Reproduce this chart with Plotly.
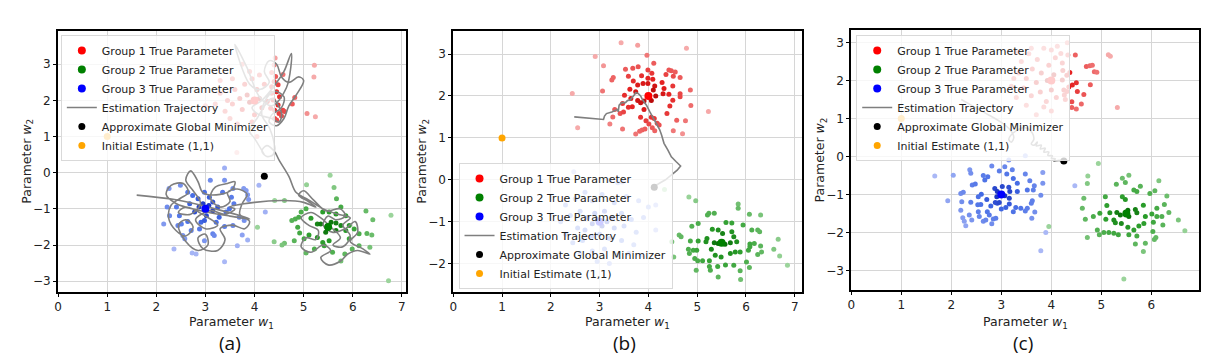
import math
import plotly.graph_objects as go

# ---------------- data ----------------
centers = {"g1": (4.0, 2.0), "g2": (5.5, -1.5), "g3": (3.0, -1.0)}
minimizer = {"a": (4.2, -0.1), "b": (4.12, -0.18), "c": (4.25, -0.12)}
initial_estimate = (1.0, 1.0)

# panel (a)
g1_a = [(4.42, 3.17), (4.40, 2.98), (4.35, 2.77), (4.43, 2.66), (4.58, 2.72), (4.40, 2.52), (4.48, 2.43),
        (4.35, 2.20), (4.45, 2.24), (4.51, 2.10), (4.38, 2.01), (4.48, 1.87), (4.58, 1.73), (4.50, 1.64),
        (4.41, 1.50), (4.45, 1.46), (4.55, 1.57), (4.61, 1.69), (4.82, 2.08), (4.77, 1.90), (5.07, 1.64),
        (5.24, 1.55), (5.21, 2.65), (5.22, 2.97), (4.33, 1.78), (4.41, 1.73), (4.26, 1.97), (4.35, 2.38),
        (3.30, 2.20), (3.45, 2.00), (3.55, 1.90), (3.60, 2.30), (3.70, 2.05), (3.75, 1.75), (3.80, 2.45),
        (3.85, 2.15), (3.90, 1.95), (3.95, 2.60), (4.00, 1.60), (4.05, 2.30), (4.10, 2.05), (4.15, 1.80),
        (3.50, 1.50), (3.65, 1.35), (3.40, 1.70), (3.95, 1.40), (4.20, 2.45), (4.10, 2.70), (3.90, 2.80),
        (3.20, 1.90), (3.00, 1.85), (4.05, 1.00), (3.64, 0.56), (3.30, 2.55), (3.55, 2.60), (3.75, 3.00)]
g2_a = [(5.54, -0.07), (5.06, -0.33), (5.62, -0.41), (5.67, -0.72), (4.61, -0.77), (4.41, -0.77), (6.27, -1.06),
        (6.78, -1.18), (6.41, -1.30), (4.83, -1.28), (4.76, -1.32), (4.90, -1.23), (4.95, -1.09), (5.05, -1.00),
        (5.15, -1.26), (5.28, -1.42), (5.39, -1.09), (5.52, -1.09), (5.66, -1.14), (5.76, -0.95), (5.86, -1.19),
        (5.93, -1.46), (6.03, -1.56), (6.13, -1.69), (6.39, -1.72), (6.29, -1.68), (6.35, -2.06), (5.76, -1.46),
        (5.66, -1.60), (5.45, -1.65), (5.28, -1.79), (5.11, -1.72), (4.92, -1.67), (4.88, -1.51), (5.01, -1.83),
        (5.05, -2.22), (5.22, -2.11), (5.42, -2.02), (5.59, -2.20), (5.76, -2.44), (5.84, -2.25), (5.99, -2.11),
        (4.61, -1.95), (4.56, -2.00), (4.40, -1.91), (4.81, -1.88), (5.39, -1.93), (5.52, -1.88), (5.93, -1.83),
        (5.86, -1.60), (5.56, -1.37), (5.35, -1.42), (5.66, -1.39), (6.73, -2.99), (4.06, -1.51), (6.13, -2.02)]
g3_a = [(3.39, 0.13), (2.26, -0.44), (2.49, -0.35), (3.10, -0.21), (3.39, -0.21), (3.56, -0.44), (3.78, -0.44),
        (3.83, -0.49), (3.86, -0.61), (3.88, -0.74), (4.09, -0.35), (4.22, -1.09), (3.58, -0.86), (3.53, -0.68),
        (2.22, -0.95), (2.15, -1.42), (2.27, -1.19), (2.44, -1.46), (2.54, -1.74), (2.58, -1.83), (2.36, -2.11),
        (2.73, -2.22), (2.81, -2.25), (2.98, -1.88), (3.15, -1.69), (3.18, -1.74), (3.39, -2.46), (3.39, -1.49),
        (3.56, -1.46), (3.65, -2.02), (3.75, -1.72), (3.86, -1.86), (3.28, -1.23), (3.22, -1.37), (2.91, -1.37),
        (2.88, -1.56), (2.71, -1.60), (2.64, -1.35), (2.51, -1.42), (2.47, -1.19), (2.41, -0.95), (2.74, -0.63),
        (2.85, -0.72), (2.98, -0.54), (3.08, -0.68), (3.15, -0.81), (2.95, -0.86), (3.02, -1.19), (2.98, -1.32),
        (3.07, -0.91), (2.87, -0.95), (2.78, -1.09), (3.15, -1.05), (3.25, -0.95), (2.68, -0.86), (2.64, -0.54),
        (3.35, -0.54), (3.49, -1.00), (3.42, -1.09), (3.69, -1.23), (3.79, -1.32)]
traj_a = [(1.6, -0.62), (2.4, -0.75), (3.2, -1.0), (3.9, -1.28), (3.5, -1.2), (2.9, -1.05), (2.4, -0.85),
          (2.2, -0.6), (2.3, -0.35), (2.55, -0.3), (2.65, -0.55), (2.5, -0.7), (2.3, -0.9), (2.25, -1.25),
          (2.4, -1.6), (2.6, -1.75), (2.75, -1.5), (2.6, -1.3), (2.45, -1.45), (2.6, -1.9), (2.85, -2.15),
          (3.05, -2.0), (3.0, -1.7), (2.85, -1.8), (2.95, -2.1), (3.25, -2.15), (3.4, -1.85), (3.3, -1.55),
          (3.55, -1.45), (3.8, -1.55), (3.9, -1.35), (3.7, -1.15), (3.75, -0.85), (3.85, -0.6), (3.65, -0.45),
          (3.45, -0.55), (3.5, -0.8), (3.3, -0.95), (3.1, -0.7), (3.2, -0.4), (3.45, -0.3), (3.6, -0.25),
          (3.55, -0.45), (3.3, -0.6), (2.95, -0.55), (2.85, -0.25), (2.7, 0.05), (2.6, -0.2), (2.75, -0.5),
          (2.9, -0.85), (2.7, -1.15), (2.45, -1.1), (2.6, -0.95), (3.0, -1.2), (3.25, -1.45), (3.0, -1.55),
          (2.8, -1.3), (3.1, -1.05), (3.4, -1.15), (3.6, -1.0), (3.5, -0.95),
          (4.0, -0.82), (4.6, -0.77), (5.0, -0.82), (5.25, -0.95),
          (5.1, -0.8), (4.9, -0.62), (5.0, -0.5), (5.2, -0.75), (5.45, -1.05), (5.75, -1.0), (5.85, -1.2),
          (5.65, -1.3), (5.5, -1.2), (5.4, -1.45), (5.6, -1.65), (5.85, -1.55), (6.05, -1.35), (6.1, -1.65),
          (5.95, -1.9), (6.2, -2.1), (6.35, -2.25), (6.1, -2.15), (5.9, -2.25), (5.75, -2.45), (5.5, -2.55),
          (5.35, -2.35), (5.55, -2.15), (5.4, -2.0), (5.15, -2.2), (4.95, -2.05), (5.05, -1.8), (5.25, -1.85),
          (5.3, -1.6), (5.1, -1.45), (4.95, -1.25), (5.15, -1.1), (5.35, -1.25), (5.55, -1.5), (5.75, -1.8),
          (5.6, -2.0), (5.8, -2.05), (5.95, -1.75), (5.8, -1.45), (5.95, -1.25), (5.7, -1.15), (5.4, -1.0),
          (5.1, -0.75), (4.85, -0.55),
          (4.7, -0.1), (4.5, 0.35), (4.4, 0.6), (4.25, 0.75), (4.15, 0.6), (4.25, 0.45), (4.38, 0.5), (4.4, 0.8),
          (4.3, 1.25), (4.15, 1.6), (4.2, 1.95), (4.4, 2.25), (4.6, 2.1), (4.55, 1.8), (4.35, 1.6), (4.3, 1.4),
          (4.45, 1.3), (4.6, 1.5), (4.7, 1.85), (4.85, 2.15), (5.0, 2.55), (4.9, 2.65), (4.7, 2.5), (4.55, 2.65),
          (4.45, 3.0), (4.3, 3.1), (4.2, 2.8), (4.3, 2.5), (4.1, 2.3), (3.9, 2.45), (3.6, 3.55), (3.85, 2.9),
          (4.1, 2.1), (4.35, 1.85), (4.65, 2.35), (4.75, 3.3), (4.6, 2.8), (4.4, 2.4), (4.15, 2.0), (3.95, 1.8),
          (4.1, 1.6), (4.35, 1.5), (4.5, 1.4), (4.55, 1.65), (4.35, 2.05), (4.05, 1.5), (3.9, 1.15), (4.0, 0.95),
          (4.2, 0.5)]

# panel (b)
g1_b = [(3.44, 3.27), (3.78, 3.21), (4.78, 3.14), (3.97, 2.97), (2.91, 2.94), (3.08, 2.72), (4.11, 2.78),
        (3.28, 2.44), (3.25, 2.38), (3.53, 2.64), (3.68, 2.66), (3.79, 2.70), (3.99, 2.62), (4.07, 2.54),
        (3.59, 2.47), (3.69, 2.36), (3.86, 2.48), (3.99, 2.42), (4.09, 2.40), (3.89, 2.30), (3.78, 2.26),
        (3.99, 2.30), (4.13, 2.24), (4.10, 2.14), (4.28, 2.32), (4.36, 2.51), (4.42, 2.62), (4.47, 2.60),
        (4.55, 2.57), (4.51, 2.47), (4.65, 2.44), (4.50, 2.24), (4.32, 2.18), (4.42, 2.04), (4.30, 2.05),
        (4.15, 2.00), (4.06, 1.89), (3.91, 1.88), (3.78, 1.89), (3.84, 1.84), (3.74, 2.10), (3.62, 2.16),
        (3.64, 1.94), (3.51, 2.02), (3.47, 1.82), (3.59, 1.73), (3.67, 1.74), (3.31, 1.68), (3.42, 1.58),
        (3.27, 1.50), (3.49, 1.62), (3.91, 1.68), (4.50, 1.90), (4.44, 1.76), (4.65, 2.05), (4.65, 1.98),
        (4.86, 2.14), (4.87, 1.77), (5.23, 1.63), (4.38, 1.58), (4.76, 1.41), (4.58, 1.42), (4.51, 1.17),
        (4.70, 1.10), (4.06, 1.49), (3.84, 1.49), (3.95, 1.41), (4.01, 1.33), (4.12, 1.46), (4.18, 1.35),
        (4.22, 1.31), (4.13, 1.17), (3.93, 1.21), (3.87, 1.19), (3.82, 1.16), (3.74, 1.09), (3.47, 1.21),
        (4.08, 1.24), (3.21, 1.33), (3.06, 2.12), (2.44, 2.06), (2.55, 1.24)]
g2_b = [(4.33, -0.23), (4.83, -0.41), (4.97, -0.50), (5.84, -0.58), (5.84, -0.68), (5.24, -0.80), (5.35, -0.80),
        (5.21, -0.84), (6.07, -0.82), (6.30, -0.84), (4.89, -1.11), (5.02, -1.04), (5.59, -1.02), (5.71, -1.03),
        (5.94, -1.08), (6.12, -1.20), (6.24, -1.20), (6.28, -1.24), (5.43, -1.20), (5.31, -1.18), (5.52, -1.28),
        (5.71, -1.24), (5.75, -1.36), (5.81, -1.48), (5.68, -1.50), (5.20, -1.40), (5.18, -1.48), (5.43, -1.52),
        (5.57, -1.54), (5.35, -1.50), (5.29, -1.66), (5.37, -1.80), (5.49, -1.84), (5.68, -1.76), (5.78, -1.72),
        (5.88, -1.72), (6.05, -1.68), (6.08, -1.60), (6.08, -1.53), (6.17, -1.52), (6.30, -1.58), (6.32, -1.72),
        (6.57, -1.66), (6.66, -1.42), (6.69, -1.82), (6.85, -2.04), (4.63, -1.32), (4.67, -1.36), (4.48, -1.48),
        (4.52, -1.84), (4.82, -1.66), (4.92, -1.68), (4.99, -1.68), (4.84, -1.76), (4.95, -1.88), (5.01, -1.93),
        (5.11, -1.93), (5.25, -1.93), (5.25, -2.07), (5.42, -2.07), (5.27, -2.16), (5.43, -2.32), (5.89, -2.38),
        (5.88, -2.17), (6.07, -2.09), (6.01, -1.96), (5.75, -2.04), (5.58, -2.03), (4.98, -2.16), (4.86, -1.46),
        (5.02, -1.46), (6.24, -1.78)]
g3_b = [(2.47, 0.19), (3.21, -0.01), (3.37, -0.07), (3.46, -0.05), (2.30, -0.60), (2.50, -0.45), (2.70, -0.30),
        (2.85, -0.50), (3.05, -0.35), (3.30, -0.55), (3.55, -0.40), (3.80, -0.50), (4.00, -0.65), (4.15, -0.60),
        (2.20, -1.00), (2.40, -0.85), (2.60, -0.75), (2.75, -0.90), (2.90, -0.80), (3.10, -0.75), (3.25, -0.90),
        (3.45, -0.80), (3.65, -0.95), (3.90, -0.90), (4.15, -1.20), (2.30, -1.30), (2.55, -1.15), (2.70, -1.20),
        (2.85, -1.05), (2.95, -0.95), (3.05, -1.10), (3.15, -1.00), (3.30, -1.15), (3.50, -1.10), (3.75, -1.25),
        (2.45, -1.50), (2.65, -1.45), (2.85, -1.35), (3.00, -1.30), (3.20, -1.40), (3.45, -1.45), (3.70, -1.55),
        (2.60, -1.75), (2.85, -1.70), (3.10, -1.65), (3.35, -1.80), (3.60, -1.75), (3.85, -1.80), (2.95, -1.95),
        (3.20, -2.00)]
traj_b = [(2.48, 1.50), (3.08, 1.44), (3.10, 1.52), (3.14, 1.58), (3.25, 1.62), (3.33, 1.66), (3.37, 1.68),
          (3.38, 1.62), (3.40, 1.78), (3.45, 1.84), (3.53, 1.84), (3.57, 1.89), (3.62, 1.90), (3.71, 2.02),
          (3.74, 2.08), (3.79, 2.06), (3.84, 2.00), (3.89, 1.89), (3.96, 1.78), (4.03, 1.62), (4.11, 1.46),
          (4.18, 1.31), (4.23, 1.20), (4.27, 1.07), (4.32, 0.87), (4.40, 0.71), (4.47, 0.55), (4.57, 0.43),
          (4.66, 0.33), (4.59, 0.23), (4.47, 0.11), (4.35, 0.00), (4.20, -0.10), (4.12, -0.15)]

# panel (c)
g1_c = [(4.32, 2.99), (4.33, 2.67), (4.19, 2.71), (4.48, 2.67), (4.22, 2.46), (4.31, 2.14), (4.37, 2.21),
        (4.22, 2.01), (4.42, 1.88), (4.50, 1.94), (4.35, 1.83), (4.25, 1.75), (4.26, 1.62), (4.28, 1.50),
        (4.31, 1.71), (4.52, 1.71), (4.65, 1.63), (4.41, 1.44), (4.60, 1.38), (4.50, 1.25), (4.41, 1.29),
        (4.78, 1.89), (4.70, 2.37), (4.77, 2.39), (4.82, 2.40), (4.86, 2.23), (4.91, 2.22), (5.14, 2.68),
        (5.18, 2.64), (5.32, 1.29), (4.23, 2.26),
        (3.35, 2.20), (3.40, 2.50), (3.45, 1.80), (3.50, 2.05), (3.55, 2.70), (3.60, 1.60), (3.62, 2.30),
        (3.70, 1.95), (3.72, 2.55), (3.78, 1.70), (3.80, 2.20), (3.85, 2.85), (3.90, 1.45), (3.92, 2.00),
        (3.95, 2.40), (4.00, 1.75), (4.05, 2.15), (4.08, 2.60), (4.10, 1.55), (4.12, 2.90), (3.30, 1.55),
        (3.50, 1.35), (3.25, 2.05), (4.00, 1.20), (3.70, 1.10), (3.85, 1.30), (3.60, 2.85), (4.00, 2.80),
        (3.30, 2.75), (3.20, 1.85)]
g2_c = [(4.94, -0.18), (4.73, -0.51), (4.72, -0.71), (5.42, -0.57), (5.55, -0.49), (5.48, -0.68), (5.30, -0.73),
        (5.65, -0.88), (5.71, -0.92), (5.78, -0.78), (5.97, -0.97), (6.07, -0.90), (6.15, -0.64), (6.31, -1.04),
        (6.26, -1.26), (6.35, -1.47), (6.21, -1.58), (6.11, -1.58), (6.04, -1.73), (6.23, -1.80), (6.54, -1.67),
        (6.67, -1.95), (4.65, -1.10), (4.62, -1.36), (4.68, -1.65), (4.72, -2.13), (4.96, -2.06), (4.92, -1.93),
        (4.84, -1.58), (4.97, -1.49), (5.08, -1.06), (5.11, -1.29), (5.17, -1.48), (5.09, -1.65), (5.28, -1.74),
        (5.25, -1.67), (5.31, -1.47), (5.42, -1.06), (5.48, -1.13), (5.38, -1.54), (5.55, -1.58), (5.53, -1.41),
        (5.68, -1.39), (5.71, -1.48), (5.84, -1.28), (5.88, -1.58), (5.85, -1.76), (5.75, -1.83), (5.65, -1.93),
        (5.53, -1.86), (5.40, -1.76), (5.25, -2.02), (5.15, -2.00), (5.05, -2.00), (5.34, -2.06), (5.55, -2.06),
        (5.71, -2.09), (5.68, -2.30), (5.88, -2.28), (5.84, -2.50), (6.06, -2.18), (6.09, -2.13), (6.03, -1.97),
        (5.45, -3.22), (3.95, -1.84), (6.01, -1.51), (6.11, -1.36)]
g3_c = [(1.67, -0.51), (2.04, -0.49), (2.37, -0.35), (2.39, -0.44), (2.81, -0.25), (3.15, -0.09), (3.48, 0.02),
        (2.64, -0.50), (2.73, -0.53), (2.67, -0.62), (2.96, -0.38), (3.07, -0.27), (3.22, -0.35), (3.11, -0.46),
        (3.24, -0.58), (3.48, -0.46), (3.57, -0.64), (3.66, -0.77), (3.83, -0.42), (3.83, -0.70), (3.64, -0.88),
        (3.79, -1.02), (3.62, -1.16), (3.60, -1.23), (3.52, -1.36), (3.67, -1.46), (3.61, -1.62), (3.48, -1.43),
        (3.39, -1.36), (3.29, -1.34), (3.24, -1.45), (3.16, -1.25), (3.09, -1.34), (3.00, -1.38), (2.92, -1.23),
        (2.79, -1.30), (2.72, -1.45), (2.59, -1.26), (2.53, -1.27), (2.39, -1.20), (2.21, -1.19), (2.19, -1.41),
        (2.23, -1.61), (2.26, -1.70), (2.29, -1.82), (2.41, -1.67), (2.54, -1.45), (2.56, -1.58), (2.64, -1.70),
        (2.69, -1.67), (2.81, -1.77), (2.84, -1.64), (2.89, -1.62), (2.76, -1.54), (1.93, -1.16), (2.19, -0.97),
        (2.24, -0.94), (2.42, -0.75), (2.48, -0.72), (2.60, -0.99), (2.54, -1.06), (2.71, -1.13), (2.87, -0.84),
        (2.92, -0.92), (3.07, -1.03), (3.17, -0.92), (3.15, -0.81), (3.32, -0.92), (3.16, -1.10), (3.02, -0.79),
        (2.91, -1.06), (2.88, -1.21), (2.96, -1.21), (3.52, -0.88), (3.32, -0.70), (4.47, -0.77), (3.89, -2.00),
        (3.79, -2.48), (2.36, -1.54)]
traj_c = [(2.2, 1.5), (2.6, 1.2), (3.0, 0.9), (3.18, 0.7), (3.25, 0.5), (3.2, 0.38), (3.15, 0.45), (3.22, 0.6),
          (3.35, 0.72), (3.5, 0.75), (3.62, 0.62), (3.65, 0.45), (3.6, 0.33), (3.66, 0.3), (3.72, 0.38),
          (3.7, 0.28), (3.8, 0.3), (3.78, 0.2), (3.88, 0.22), (3.85, 0.12), (3.95, 0.12), (3.93, 0.03),
          (4.02, 0.02), (4.0, -0.05), (4.08, -0.06), (4.05, -0.12), (4.15, -0.1), (4.25, -0.12)]

x_ticks = {"a": list(range(0, 8)), "b": list(range(0, 8)), "c": list(range(0, 7))}
y_ticks = {"a": list(range(-3, 4)), "b": list(range(-2, 4)), "c": list(range(-3, 4))}
panel_labels = ["(a)", "(b)", "(c)"]
legend_names = ["Group 1 True Parameter", "Group 2 True Parameter", "Group 3 True Parameter",
                "Estimation Trajectory", "Approximate Global Minimizer", "Initial Estimate (1,1)"]

# ---------------- styling ----------------
FONT = "DejaVu Sans"
OFF = 8                      # page body margin of the browser
W, H = 1224 - OFF, 358 - OFF  # figure size so the page fills the window
stops = {
    "g1": [(165, 0, 0), (228, 30, 30), (246, 170, 170)],
    "g2": [(0, 100, 0), (40, 155, 40), (155, 212, 155)],
    "g3": [(15, 35, 180), (65, 105, 228), (170, 184, 246)],
}
main_col = {"g1": "#ff0000", "g2": "#008000", "g3": "#0000ff"}


def PX(px):
    return (px - OFF) / W


def PY(py):
    return 1 - (py - OFF) / H


def shade(pts, key):
    cx, cy = centers[key]
    s = stops[key]
    cols = []
    for x, y in pts:
        t = min(math.hypot(x - cx, y - cy) / 1.3, 1.0)
        if t < 0.3:
            a, b, f = s[0], s[1], t / 0.3
        else:
            a, b, f = s[1], s[2], (t - 0.3) / 0.7
        c = tuple(int(round(a[i] + (b[i] - a[i]) * f)) for i in range(3))
        cols.append("rgb(%d,%d,%d)" % c)
    return cols


panels = [
    dict(key="a", ax="", pts={"g1": g1_a, "g2": g2_a, "g3": g3_a}, traj=traj_a, spline=True,
         px=(54.3, 403.0), py=(31.0, 292.0), xr=(0, 7.08), yr=(-3.3, 3.92),
         legend="legend", lpos=(57, 35, "top")),
    dict(key="b", ax="2", pts={"g1": g1_b, "g2": g2_b, "g3": g3_b}, traj=traj_b, spline=False,
         px=(450.7, 800.7), py=(31.0, 291.7), xr=(0, 7.15), yr=(-2.67, 3.55),
         legend="legend2", lpos=(456, 289, "bottom")),
    dict(key="c", ax="3", pts={"g1": g1_c, "g2": g2_c, "g3": g3_c}, traj=traj_c, spline=True,
         px=(850.0, 1199.3), py=(30.3, 290.0), xr=(0, 6.96), yr=(-3.51, 3.32),
         legend="legend3", lpos=(855, 35, "top")),
]

fig = go.Figure()
layout = dict(width=W, height=H, margin=dict(l=0, r=0, t=0, b=0), paper_bgcolor="white",
              plot_bgcolor="white", font=dict(family=FONT, size=12, color="#222"), annotations=[])

for i, p in enumerate(panels):
    xa, ya = "x" + p["ax"], "y" + p["ax"]
    leg = p["legend"]
    for g in ["g1", "g2", "g3"]:
        pts = p["pts"][g]
        fig.add_trace(go.Scatter(x=[q[0] for q in pts], y=[q[1] for q in pts], mode="markers",
                                 marker=dict(size=5, color=shade(pts, g), line=dict(width=0)),
                                 xaxis=xa, yaxis=ya, showlegend=False, hoverinfo="skip"))
    tr = p["traj"]
    fig.add_trace(go.Scatter(x=[q[0] for q in tr], y=[q[1] for q in tr], mode="lines",
                             line=dict(color="#7f7f7f", width=1.6,
                                       shape="spline" if p["spline"] else "linear", smoothing=1.0),
                             name=legend_names[3], legend=leg, legendrank=4, xaxis=xa, yaxis=ya))
    for j, g in enumerate(["g1", "g2", "g3"]):
        cx, cy = centers[g]
        fig.add_trace(go.Scatter(x=[cx], y=[cy], mode="markers",
                                 marker=dict(size=8, color=main_col[g]), name=legend_names[j],
                                 legend=leg, legendrank=j + 1, xaxis=xa, yaxis=ya))
    mx, my = minimizer[p["key"]]
    fig.add_trace(go.Scatter(x=[mx], y=[my], mode="markers", marker=dict(size=7, color="black"),
                             name=legend_names[4], legend=leg, legendrank=5, xaxis=xa, yaxis=ya))
    fig.add_trace(go.Scatter(x=[initial_estimate[0]], y=[initial_estimate[1]], mode="markers",
                             marker=dict(size=7, color="orange"), name=legend_names[5], legend=leg,
                             legendrank=6, xaxis=xa, yaxis=ya))

    dx = [PX(p["px"][0]), PX(p["px"][1])]
    dy = [PY(p["py"][1]), PY(p["py"][0])]
    axcommon = dict(showgrid=True, gridcolor="#d6d6d6", gridwidth=1, zeroline=False, showline=True,
                    linecolor="black", linewidth=2, mirror=True, ticks="outside", ticklen=3,
                    tickcolor="black", tickfont=dict(family=FONT, size=12, color="#222"))
    layout["xaxis" + p["ax"]] = dict(domain=dx, range=list(p["xr"]), tickmode="array",
                                     tickvals=x_ticks[p["key"]], anchor=ya, **axcommon)
    layout["yaxis" + p["ax"]] = dict(domain=dy, range=list(p["yr"]), tickmode="array",
                                     tickvals=y_ticks[p["key"]], anchor=xa, **axcommon)
    lx, ly, anc = p["lpos"]
    layout[leg] = dict(x=PX(lx), y=PY(ly), xanchor="left", yanchor=anc,
                       bgcolor="rgba(255,255,255,0.8)", bordercolor="#d9d9d9", borderwidth=1,
                       font=dict(family=FONT, size=11, color="#222"), traceorder="normal",
                       itemsizing="trace")
    cxp = (dx[0] + dx[1]) / 2
    layout["annotations"].append(dict(text="Parameter <i>w</i><sub>1</sub>", x=cxp, y=PY(322),
                                      xref="paper", yref="paper", showarrow=False, xanchor="center",
                                      yanchor="middle", font=dict(family=FONT, size=12.5, color="#222")))
    layout["annotations"].append(dict(text="Parameter <i>w</i><sub>2</sub>", x=PX(p["px"][0] - 31),
                                      y=(dy[0] + dy[1]) / 2, xref="paper", yref="paper",
                                      showarrow=False, textangle=-90, xanchor="center", yanchor="middle",
                                      font=dict(family=FONT, size=12.5, color="#222")))
    cap_x = [226.7, 622.3, 1022.7][i]
    layout["annotations"].append(dict(text=panel_labels[i], x=PX(cap_x), y=PY(343), xref="paper",
                                      yref="paper", showarrow=False, xanchor="center", yanchor="middle",
                                      font=dict(family="Open Sans", size=19, color="#111")))

fig.update_layout(**layout)
fig.write_html("out.html")
